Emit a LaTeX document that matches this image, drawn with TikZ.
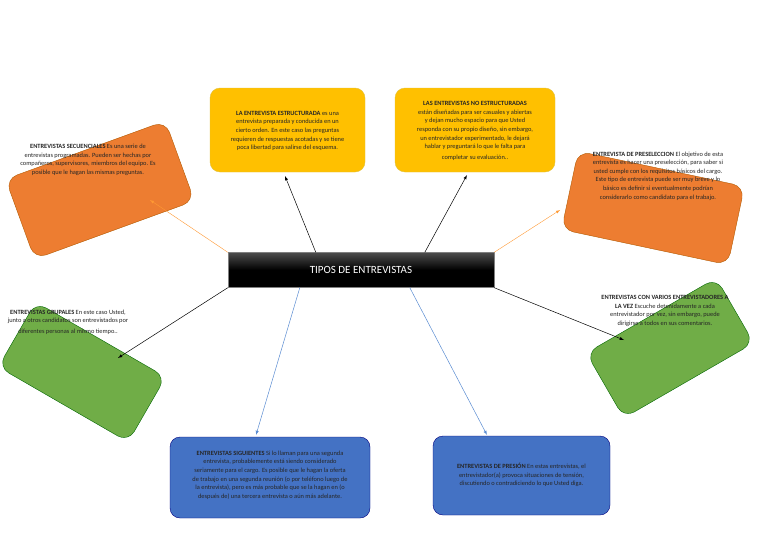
\documentclass[tikz,border=0pt]{standalone}
\usepackage{fontspec}
\setmainfont{Carlito}
\definecolor{lblue}{RGB}{90,140,210}
\begin{document}
\begin{tikzpicture}[x=1pt,y=-1pt,
  txt/.style={align=center,font=\fontsize{6.4}{8.6}\selectfont,text=black!85},
  yel/.style={draw=yellow!50!brown,fill={rgb,255:red,255;green,192;blue,0},rounded corners=10pt},
  org/.style={draw=orange!70!black,fill={rgb,255:red,237;green,125;blue,49},rounded corners=12pt},
  grn/.style={draw=green!40!black,fill={rgb,255:red,112;green,173;blue,71},rounded corners=12pt},
  blu/.style={draw=blue!50!black,fill={rgb,255:red,68;green,114;blue,196},rounded corners=10pt},
  con/.style={-latex,line width=0.5pt}]
\useasboundingbox (0,0) rectangle (768,543);
\fill[white] (0,0) rectangle (768,543);
% shapes
\node[yel,minimum width=155pt,minimum height=84pt] (y1) at (287.5,130) {};
\node[yel,minimum width=160pt,minimum height=84pt] (y2) at (475,130) {};
\node[org,minimum width=170pt,minimum height=85pt,rotate=20] (o1) at (100,190) {};
\node[org,minimum width=170pt,minimum height=80pt,rotate=-12] (o2) at (653,208) {};
\node[grn,minimum width=150pt,minimum height=75pt,rotate=-30] (g1) at (82,372) {};
\node[grn,minimum width=150pt,minimum height=75pt,rotate=30] (g2) at (670,348) {};
\node[blu,minimum width=200pt,minimum height=81pt] (b1) at (270,477.5) {};
\node[blu,minimum width=177pt,minimum height=79pt] (b2) at (521.5,475.5) {};
\node[draw=gray,top color=black!70,bottom color=black,middle color=black,minimum width=266pt,minimum height=35pt,text=white,font=\fontsize{11}{12}\selectfont] (c) at (361,270) {TIPOS DE ENTREVISTAS};
% texts
\node[txt] at (287.5,131) {\textbf{LA ENTREVISTA ESTRUCTURADA} es una\\entrevista preparada y conducida en un\\cierto orden. En este caso las preguntas\\requieren de respuestas acotadas y se tiene\\poca libertad para salirse del esquema.};
\node[txt] at (475,131) {\textbf{LAS ENTREVISTAS NO ESTRUCTURADAS}\\están diseñadas para ser casuales y abiertas\\y dejan mucho espacio para que Usted\\responda con su propio diseño, sin embargo,\\un entrevistador experimentado, le dejará\\hablar y preguntará lo que le falta para\\[2pt]completar su evaluación..};
\node[txt] at (88,160) {\textbf{ENTREVISTAS SECUENCIALES} Es una serie de\\entrevistas programadas. Pueden ser hechas por\\compañeros, supervisores, miembros del equipo. Es\\posible que le hagan las mismas preguntas.};
\node[txt] at (658,176) {\textbf{ENTREVISTA DE PRESELECCION} El objetivo de esta\\entrevista es hacer una preselección, para saber si\\usted cumple con los requisitos básicos del cargo.\\Este tipo de entrevista puede ser muy breve y lo\\básico es definir si eventualmente podrían\\considerarlo como candidato para el trabajo.};
\node[txt] at (68,322) {\textbf{ENTREVISTAS GRUPALES} En este caso Usted,\\junto a otros candidatos son entrevistados por\\[2pt]diferentes personas al mismo tiempo..};
\node[txt] at (665,311) {\textbf{ENTREVISTAS CON VARIOS ENTREVISTADORES A}\\\textbf{LA VEZ} Escuche detenidamente a cada\\entrevistador por vez, sin embargo, puede\\dirigirse a todos en sus comentarios.};
\node[txt] at (270,475) {\textbf{ENTREVISTAS SIGUIENTES} Si lo llaman para una segunda\\entrevista, probablemente está siendo considerado\\seriamente para el cargo. Es posible que le hagan la oferta\\de trabajo en una segunda reunión (o por teléfono luego de\\la entrevista), pero es más probable que se la hagan en (o\\después de) una tercera entrevista o aún más adelante.};
\node[txt] at (521.5,475) {\textbf{ENTREVISTAS DE PRESIÓN} En estas entrevistas, el\\entrevistador(a) provoca situaciones de tensión,\\discutiendo o contradiciendo lo que Usted diga.};
% connectors
\coordinate (t1) at (285,176);
\coordinate (t2) at (467,175);
\coordinate (t3) at (150,200);
\coordinate (t4) at (560,210);
\coordinate (t5) at (118,358);
\coordinate (t6) at (624,340);
\coordinate (t7) at (256,435);
\coordinate (t8) at (487,435);
\draw[con] (c.north west)++(88,0) -- (t1);
\draw[con] (c.north west)++(197,0) -- (t2);
\draw[con,orange!80,line width=0.4pt] (c.north west) -- (t3);
\draw[con,orange!80,line width=0.4pt] (c.north east) -- (t4);
\draw[con] (c.south west) -- (t5);
\draw[con] (c.south east) -- (t6);
\draw[con,lblue] (c.south west)++(72,0) -- (t7);
\draw[con,lblue] (c.south west)++(182,0) -- (t8);
\end{tikzpicture}
\end{document}
